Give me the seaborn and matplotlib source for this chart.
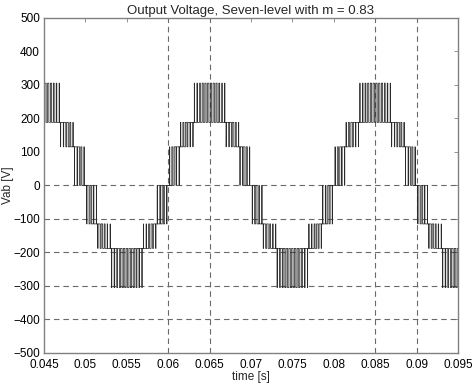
import numpy as np
import pandas as pd
import matplotlib
matplotlib.use('Agg')
import matplotlib.pyplot as plt
import seaborn as sns

# output levels of the seven-level inverter (positive side) [V]
level_pos = [0, 115, 188, 305]

# one half cycle of the PWM pattern: band and duty per carrier slot
half_band = [1, 1, 1, 1, 2, 2, 2, 2, 2, 3, 3, 3, 3, 3, 3,
             3, 3, 3, 3, 3, 3, 2, 2, 2, 2, 2, 1, 1, 1, 1]
half_duty = [0.13, 0.39, 0.64, 0.89, 0.13, 0.36, 0.57, 0.76, 0.94, 0.09,
             0.22, 0.32, 0.41, 0.46, 0.49, 0.49, 0.46, 0.41, 0.32, 0.22,
             0.09, 0.94, 0.76, 0.57, 0.36, 0.13, 0.89, 0.64, 0.39, 0.13]

# half cycles shown (start in ms, polarity)
half_start_ms = [40, 50, 60, 70, 80, 90]
half_sign = [1, -1, 1, -1, 1, -1]
slot_ms = 1 / 3

xticks = [0.045, 0.05, 0.055, 0.06, 0.065, 0.07, 0.075, 0.08, 0.085, 0.09, 0.095]
xtick_labels = ['0.045', '0.05', '0.055', '0.06', '0.065', '0.07', '0.075',
                '0.08', '0.085', '0.09', '0.095']
yticks = [-500, -400, -300, -200, -100, 0, 100, 200, 300, 400, 500]
grid_x = [0.06, 0.065, 0.085, 0.09]
grid_y = [0, -100, -200, -300, -400]

# build the step waveform from the slots
times, volts = [], []
for t0, sgn in zip(half_start_ms, half_sign):
    for k, (b, d) in enumerate(zip(half_band, half_duty)):
        s = t0 + k * slot_ms
        lo = sgn * level_pos[b - 1]
        hi = sgn * level_pos[b]
        c = s + slot_ms / 2
        w = d * slot_ms
        times += [s, c - w / 2, c + w / 2]
        volts += [lo, hi, lo]
times.append(100)
volts.append(0)

df = pd.DataFrame({'time': np.array(times) / 1000, 'Vab': volts})

sns.set_theme(style='white')
plt.rcParams['font.family'] = ['Liberation Sans', 'DejaVu Sans']

fig = plt.figure(figsize=(4.74, 3.87), dpi=100)
ax = fig.add_axes([0.093, 0.088, 0.873, 0.866])

for y in grid_y:
    ax.axhline(y, color='#6a6a6a', lw=0.8, ls=(0, (5, 3.5)), zorder=1)
for x in grid_x:
    ax.axvline(x, color='#6a6a6a', lw=0.8, ls=(0, (5, 3.5)), zorder=1)

sns.lineplot(data=df, x='time', y='Vab', ax=ax, estimator=None, sort=False,
             drawstyle='steps-post', color='#2a2a2a', lw=0.55, zorder=2)

ax.set_xlim(0.045, 0.095)
ax.set_ylim(-500, 500)
ax.set_xticks(xticks)
ax.set_xticklabels(xtick_labels)
ax.set_yticks(yticks)

for sp in ax.spines.values():
    sp.set_color('#808080')
    sp.set_linewidth(1.0)
ax.tick_params(direction='in', length=3, width=0.6, color='#808080',
               labelsize=8.5, labelcolor='black', top=True, right=True)
ax.tick_params(axis='x', pad=4.5)
ax.tick_params(axis='y', pad=3)

ax.set_title('Output Voltage, Seven-level with m = 0.83', fontsize=9.5, pad=3)
ax.set_xlabel('time [s]', fontsize=8.5, labelpad=0)
ax.set_ylabel('Vab [V]', fontsize=8.5)
ax.yaxis.set_label_coords(-0.072, 0.5)

fig.savefig('out.png', dpi=100)
